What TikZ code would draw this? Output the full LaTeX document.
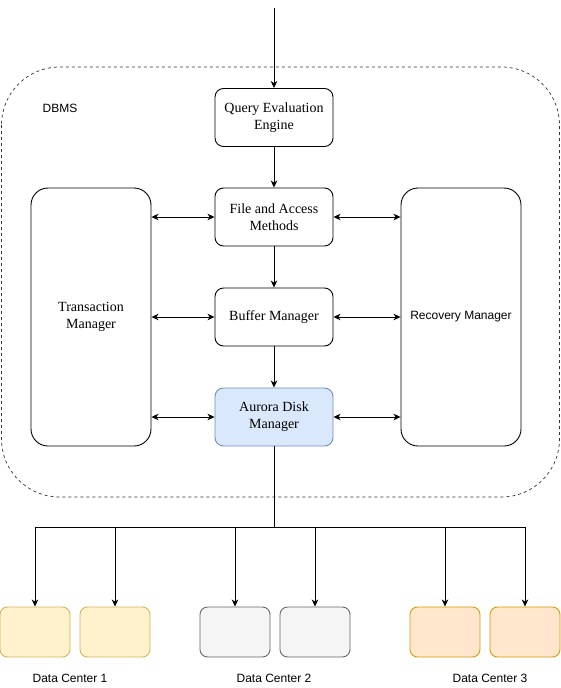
\documentclass[tikz,border=0pt]{standalone}
\usepackage{fontspec}
\setmainfont{Liberation Serif}
\newfontfamily\sansf{Liberation Sans}
\usetikzlibrary{arrows.meta,calc}
\definecolor{blueF}{HTML}{DAE8FC}
\definecolor{blueS}{HTML}{6C8EBF}
\definecolor{yelF}{HTML}{FFF2CC}
\definecolor{yelS}{HTML}{D6B656}
\definecolor{grayF}{HTML}{F5F5F5}
\definecolor{grayS}{HTML}{666666}
\definecolor{orgF}{HTML}{FFE6CC}
\definecolor{orgS}{HTML}{D79B00}
\tikzset{
  serifbox/.style={draw=black, line width=0.9pt, rounded corners=8.5pt, minimum width=118pt, minimum height=58pt, align=center, inner sep=0pt, font=\fontsize{14}{17}\selectfont},
  tallbox/.style={draw=black, line width=0.9pt, rounded corners=17pt, minimum width=120pt, minimum height=258pt, align=center, inner sep=0pt},
  dcbox/.style={line width=0.9pt, rounded corners=7.5pt, minimum width=70pt, minimum height=50pt, inner sep=0pt},
  sanslabel/.style={font=\sansf\fontsize{12}{14}\selectfont, inner sep=0pt},
  arr/.style={line width=0.9pt, -{Stealth[length=7pt,width=6.5pt,inset=2pt]}},
  darr/.style={line width=0.9pt, {Stealth[length=7pt,width=6.5pt,inset=2pt]}-{Stealth[length=7pt,width=6.5pt,inset=2pt]}},
  plain/.style={line width=0.9pt}
}
\begin{document}
\begin{tikzpicture}[x=1pt,y=-1pt]
\useasboundingbox (0,0) rectangle (561,688);
% container
\draw[draw=black!80, line width=0.7pt, dash pattern=on 3pt off 3pt, rounded corners=58pt] (1.5,67) rectangle (559.5,497);
\node[sanslabel] (dbms) at (60,108) {DBMS};
% center stack
\coordinate (top) at (274,8);
\node[serifbox] (qee) at (274,117.5) {Query Evaluation\\Engine};
\node[serifbox] (fam) at (274,217) {File and Access\\Methods};
\node[serifbox] (bm) at (274,317) {Buffer Manager};
\node[serifbox, fill=blueF, draw=blueS] (adm) at (274,417) {Aurora Disk\\Manager};
% side boxes
\node[tallbox, font=\fontsize{14}{17}\selectfont] (tm) at (91,317) {Transaction\\Manager};
\node[tallbox, font=\sansf\fontsize{12}{14}\selectfont] (rm) at (461,317) {Recovery Manager};
% vertical arrows
\draw[arr] (top) -- (qee.north);
\draw[arr] (qee.south) -- (fam.north);
\draw[arr] (fam.south) -- (bm.north);
\draw[arr] (bm.south) -- (adm.north);
% horizontal double arrows
\foreach \n in {fam,bm,adm}{
  \draw[darr] (tm.east |- \n) -- (\n.west);
  \draw[darr] (\n.east) -- (rm.west |- \n);
}
% data centers
\node[dcbox, fill=yelF, draw=yelS] (d1) at (35,632) {};
\node[dcbox, fill=yelF, draw=yelS] (d2) at (115,632) {};
\node[dcbox, fill=grayF, draw=grayS] (d3) at (235,632) {};
\node[dcbox, fill=grayF, draw=grayS] (d4) at (315,632) {};
\node[dcbox, fill=orgF, draw=orgS] (d5) at (445,632) {};
\node[dcbox, fill=orgF, draw=orgS] (d6) at (525,632) {};
\node[sanslabel] (l1) at (70,678) {Data Center 1};
\node[sanslabel] (l2) at (274,678) {Data Center 2};
\node[sanslabel] (l3) at (490,678) {Data Center 3};
% distribution
\coordinate (split) at (274,527);
\draw[plain] (adm.south) -- (split);
\foreach \n in {d1,d2,d3,d4,d5,d6}{
  \draw[arr] (split) -- (split -| \n.north) -- (\n.north);
}
\end{tikzpicture}
\end{document}
